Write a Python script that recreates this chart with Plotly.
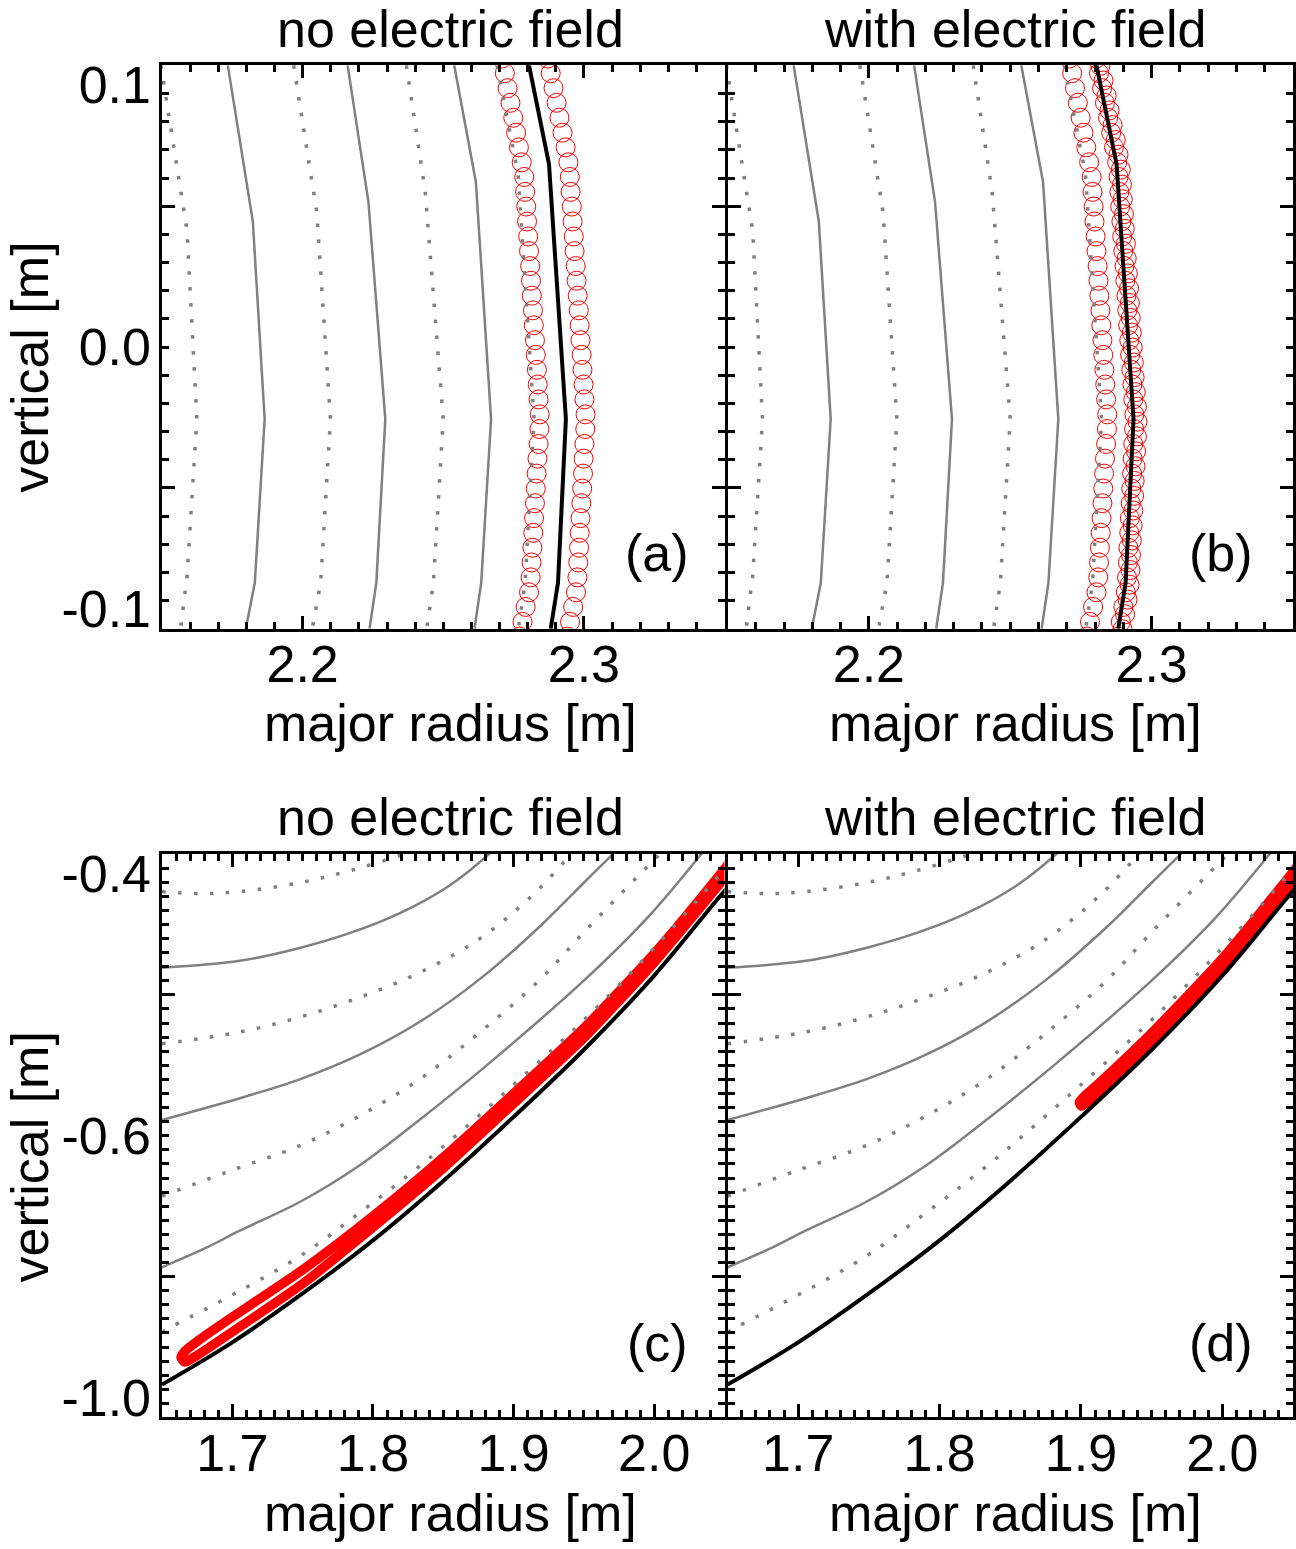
import plotly.graph_objects as go

W, H = 1296, 1549

# ---------------- top panels (a) and (b): major radius R [m] vs vertical Z [m] ----------------
top_R_range = [2.15, 2.35]
top_Z_range = [-0.1075, 0.1075]
top_ylabel_vals = [0.1, 0.0, -0.1]
top_ylabel_text = ["0.1", "0.0", "-0.1"]
top_ymajor_vals = [0.05375, -0.05375]
top_yminor_dtick = 0.01075

# flux-surface contours (grey dotted / grey solid / black)
top_dot1_R = [2.1496, 2.1589, 2.1624, 2.1589, 2.1566]
top_dot1_Z = [0.1075, 0.0445, -0.0275, -0.0875, -0.1075]
top_sol1_R = [2.1734, 2.1823, 2.1865, 2.1830, 2.1798]
top_sol1_Z = [0.1075, 0.0479, -0.0275, -0.0900, -0.1075]
top_dot2_R = [2.1968, 2.2050, 2.2099, 2.2064, 2.2034]
top_dot2_Z = [0.1075, 0.0517, -0.0275, -0.0900, -0.1075]
top_sol2_R = [2.2160, 2.2234, 2.2294, 2.2262, 2.2238]
top_sol2_Z = [0.1075, 0.0554, -0.0275, -0.0900, -0.1075]
top_dot3_R = [2.2369, 2.2436, 2.2500, 2.2465, 2.2441]
top_dot3_Z = [0.1075, 0.0592, -0.0275, -0.0900, -0.1075]
top_sol3_R = [2.2539, 2.2616, 2.2670, 2.2635, 2.2611]
top_sol3_Z = [0.1075, 0.0630, -0.0275, -0.0900, -0.1075]
top_dot4_R = [2.2691, 2.2766, 2.2823, 2.2791, 2.2767]
top_dot4_Z = [0.1075, 0.0660, -0.0275, -0.0900, -0.1075]
top_black_R = [2.2805, 2.2876, 2.2936, 2.2908, 2.2882]
top_black_Z = [0.1075, 0.0698, -0.0275, -0.0900, -0.1075]

# orbit marker positions (red open circles)
orbit_top_Z = [0.1101, 0.1045, 0.0988, 0.0932, 0.0875, 0.0818, 0.0762, 0.0705, 0.0649, 0.0592,
               0.0536, 0.0479, 0.0422, 0.0366, 0.0309, 0.0253, 0.0196, 0.0140, 0.0083, 0.0026,
               -0.0030, -0.0087, -0.0143, -0.0200, -0.0257, -0.0313, -0.0370, -0.0426, -0.0483, -0.0540,
               -0.0596, -0.0653, -0.0709, -0.0766, -0.0822, -0.0879, -0.0936, -0.0992, -0.1049, -0.1105]
orbit_left_R = [2.2709, 2.2719, 2.2729, 2.2739, 2.2749, 2.2759, 2.2769, 2.2779, 2.2788, 2.2791,
                2.2795, 2.2798, 2.2802, 2.2805, 2.2809, 2.2812, 2.2815, 2.2819, 2.2822, 2.2826,
                2.2829, 2.2833, 2.2836, 2.2839, 2.2843, 2.2842, 2.2839, 2.2835, 2.2832, 2.2829,
                2.2826, 2.2823, 2.2820, 2.2817, 2.2814, 2.2811, 2.2805, 2.2793, 2.2782, 2.2771]
orbit_a_right_R = [2.2871, 2.2882, 2.2892, 2.2903, 2.2913, 2.2924, 2.2935, 2.2945, 2.2950, 2.2953,
                   2.2957, 2.2960, 2.2964, 2.2967, 2.2971, 2.2974, 2.2978, 2.2982, 2.2985, 2.2988,
                   2.2992, 2.2995, 2.2999, 2.3002, 2.3006, 2.3005, 2.3002, 2.2999, 2.2997, 2.2994,
                   2.2991, 2.2988, 2.2985, 2.2983, 2.2980, 2.2977, 2.2972, 2.2962, 2.2951, 2.2941]
orbit_b_right_R = [2.2804, 2.2814, 2.2825, 2.2835, 2.2846, 2.2857, 2.2867, 2.2878, 2.2883, 2.2886,
                   2.2889, 2.2893, 2.2896, 2.2900, 2.2904, 2.2907, 2.2911, 2.2914, 2.2917, 2.2921,
                   2.2924, 2.2928, 2.2932, 2.2935, 2.2939, 2.2938, 2.2935, 2.2933, 2.2931, 2.2928,
                   2.2926, 2.2923, 2.2921, 2.2918, 2.2916, 2.2913, 2.2909, 2.2900, 2.2891, 2.2882]
orbit_b_Z2 = [0.1073, 0.1017, 0.0960, 0.0903, 0.0847, 0.0790, 0.0734, 0.0677, 0.0620, 0.0564,
              0.0507, 0.0451, 0.0394, 0.0338, 0.0281, 0.0224, 0.0168, 0.0111, 0.0055, -0.0002,
              -0.0059, -0.0115, -0.0172, -0.0228, -0.0285, -0.0341, -0.0398, -0.0455, -0.0511, -0.0568,
              -0.0624, -0.0681, -0.0738, -0.0794, -0.0851, -0.0907, -0.0964, -0.1020, -0.1077]
orbit_b_right2_R = [2.2819, 2.2830, 2.2841, 2.2851, 2.2862, 2.2873, 2.2883, 2.2891, 2.2895, 2.2898,
                    2.2902, 2.2905, 2.2909, 2.2912, 2.2916, 2.2920, 2.2923, 2.2926, 2.2930, 2.2933,
                    2.2937, 2.2940, 2.2944, 2.2948, 2.2950, 2.2948, 2.2945, 2.2943, 2.2940, 2.2938,
                    2.2935, 2.2933, 2.2930, 2.2927, 2.2925, 2.2922, 2.2915, 2.2906, 2.2897]

# ---------------- bottom panels (c) and (d) ----------------
bot_R_range = [1.65, 2.05]
bot_Z_range = [-1.0226, -0.3774]
bot_ylabel_vals = [-0.4, -0.7, -1.0]
bot_ylabel_text = ["-0.4", "-0.6", "-1.0"]
bot_ymajor_vals = [-0.5387, -0.8613]
bot_yminor_dtick = 0.01613

bot_dot1_R = [1.65, 1.6770, 1.7053, 1.7479, 1.7833, 1.8223, 1.8472]
bot_dot1_Z = [-0.4204, -0.4227, -0.4204, -0.4102, -0.3966, -0.3774, -0.3638]
bot_sol1_R = [1.65, 1.7053, 1.7479, 1.7833, 1.8188, 1.8543, 1.8826, 1.9039]
bot_sol1_Z = [-0.5076, -0.4997, -0.4849, -0.4680, -0.4453, -0.4136, -0.3774, -0.3434]
bot_dot2_R = [1.65, 1.7053, 1.7479, 1.7904, 1.8330, 1.8755, 1.9110, 1.9408, 1.9606]
bot_dot2_Z = [-0.5947, -0.5812, -0.5642, -0.5415, -0.5132, -0.4748, -0.4283, -0.3774, -0.3378]
bot_sol2_R = [1.65, 1.7053, 1.7479, 1.7904, 1.8330, 1.8755, 1.9181, 1.9507, 1.9720, 1.9890]
bot_sol2_Z = [-0.6819, -0.6570, -0.6355, -0.6072, -0.5698, -0.5212, -0.4612, -0.4091, -0.3751, -0.3468]
bot_dot3_R = [1.65, 1.6975, 1.7479, 1.7904, 1.8330, 1.8755, 1.9181, 1.9507, 2.0039, 2.0245]
bot_dot3_Z = [-0.7691, -0.7408, -0.7113, -0.6774, -0.6355, -0.5823, -0.5223, -0.4657, -0.3774, -0.3434]
bot_sol3_R = [1.65, 1.6819, 1.7053, 1.7479, 1.7904, 1.8330, 1.8798, 1.9507, 1.9961, 2.0323, 2.0528]
bot_sol3_Z = [-0.8506, -0.8279, -0.8087, -0.7759, -0.7340, -0.6819, -0.6208, -0.5212, -0.4487, -0.3797, -0.3378]
bot_dot4_R = [1.65, 1.6571, 1.6869, 1.7479, 1.7904, 1.8330, 1.8798, 1.9543, 2.0032, 2.05, 2.0599]
bot_dot4_Z = [-0.9253, -0.9185, -0.8936, -0.8381, -0.7883, -0.7351, -0.6706, -0.5608, -0.4793, -0.3944, -0.3751]
bot_black_R = [1.65, 1.70, 1.75, 1.80, 1.85, 1.90, 1.95, 2.00, 2.05, 2.06]
bot_black_Z = [-0.9850, -0.9366, -0.8806, -0.8198, -0.7517, -0.6784, -0.6015, -0.5166, -0.4198, -0.4030]

# orbit traces (outer leg down to the tip, then inner leg back up)
orbit_c_R = [2.0599, 2.05, 2.0004, 1.9507, 1.9003, 1.8507, 1.8004, 1.7507, 1.7004, 1.6770, 1.6670,
             1.6635, 1.6663, 1.6741, 1.7004, 1.7507, 1.8004, 1.8507, 1.9003, 1.9507, 2.0004, 2.05, 2.0599]
orbit_c_Z = [-0.3740, -0.3944, -0.4906, -0.5755, -0.6513, -0.7238, -0.7917, -0.8528, -0.9072, -0.9332, -0.9457,
             -0.9536, -0.9592, -0.9524, -0.9241, -0.8687, -0.8042, -0.7362, -0.6627, -0.5868, -0.5008, -0.4046, -0.3842]
orbit_d_R = [2.0599, 2.05, 2.0004, 1.9507, 1.9110, 1.9039, 1.8989, 1.9003, 1.9067, 1.9507, 2.0004, 2.05, 2.0599]
orbit_d_Z = [-0.3763, -0.3978, -0.4963, -0.5812, -0.6423, -0.6525, -0.6615, -0.6661, -0.6593, -0.5913, -0.5064, -0.4091, -0.3899]

titles = ["no electric field", "with electric field"]
panel_tags = ["(a)", "(b)", "(c)", "(d)"]
x_title = "major radius [m]"
y_title = "vertical [m]"

# ---------------- figure ----------------
GREY = "rgb(128,128,128)"
FAMILY = "Liberation Sans, Arial, Helvetica, sans-serif"
FONT = dict(family=FAMILY, size=52, color="black")

fig = go.Figure()


def add_line(R, Z, xa, ya, kind, shape="linear"):
    if kind == "solid":
        line = dict(color=GREY, width=2.5, shape=shape)
    elif kind == "dot":
        line = dict(color=GREY, width=3.5, dash="3.5px,12.5px", shape=shape)
    else:
        line = dict(color="black", width=4, shape=shape)
    fig.add_trace(go.Scatter(x=R, y=Z, mode="lines", line=line, xaxis=xa, yaxis=ya,
                             showlegend=False, hoverinfo="skip"))


def add_circles(R, Z, xa, ya):
    fig.add_trace(go.Scatter(x=R, y=Z, mode="markers", xaxis=xa, yaxis=ya, showlegend=False,
                             hoverinfo="skip",
                             marker=dict(symbol="circle-open", size=19, color="red",
                                         line=dict(width=1, color="red"))))


def add_band(R, Z, xa, ya):
    fig.add_trace(go.Scatter(x=R, y=Z, mode="lines", xaxis=xa, yaxis=ya, showlegend=False,
                             hoverinfo="skip",
                             line=dict(color="red", width=9.5, shape="spline", smoothing=0.6)))


# top panels
add_circles(orbit_left_R, orbit_top_Z, "x", "y")
add_circles(orbit_a_right_R, orbit_top_Z, "x", "y")
add_circles(orbit_left_R, orbit_top_Z, "x2", "y2")
add_circles(orbit_b_right_R, orbit_top_Z, "x2", "y2")
add_circles(orbit_b_right2_R, orbit_b_Z2, "x2", "y2")
for xa, ya in [("x", "y"), ("x2", "y2")]:
    add_line(top_dot1_R, top_dot1_Z, xa, ya, "dot")
    add_line(top_sol1_R, top_sol1_Z, xa, ya, "solid")
    add_line(top_dot2_R, top_dot2_Z, xa, ya, "dot")
    add_line(top_sol2_R, top_sol2_Z, xa, ya, "solid")
    add_line(top_dot3_R, top_dot3_Z, xa, ya, "dot")
    add_line(top_sol3_R, top_sol3_Z, xa, ya, "solid")
    add_line(top_dot4_R, top_dot4_Z, xa, ya, "dot")
    add_line(top_black_R, top_black_Z, xa, ya, "black")

# bottom panels
add_band(orbit_c_R, orbit_c_Z, "x3", "y3")
add_band(orbit_d_R, orbit_d_Z, "x4", "y4")
for xa, ya in [("x3", "y3"), ("x4", "y4")]:
    add_line(bot_dot1_R, bot_dot1_Z, xa, ya, "dot", "spline")
    add_line(bot_sol1_R, bot_sol1_Z, xa, ya, "solid", "spline")
    add_line(bot_dot2_R, bot_dot2_Z, xa, ya, "dot", "spline")
    add_line(bot_sol2_R, bot_sol2_Z, xa, ya, "solid", "spline")
    add_line(bot_dot3_R, bot_dot3_Z, xa, ya, "dot", "spline")
    add_line(bot_sol3_R, bot_sol3_Z, xa, ya, "solid", "spline")
    add_line(bot_dot4_R, bot_dot4_Z, xa, ya, "dot", "spline")
    add_line(bot_black_R, bot_black_Z, xa, ya, "black", "spline")

# empty traces so the label-only overlay axes are created
fig.add_trace(go.Scatter(x=[None], y=[None], xaxis="x", yaxis="y5", showlegend=False, hoverinfo="skip"))
fig.add_trace(go.Scatter(x=[None], y=[None], xaxis="x3", yaxis="y6", showlegend=False, hoverinfo="skip"))

# ---------------- axes ----------------
XA = [162 / W, 724.5 / W]
XB = [727.5 / W, 1293 / W]
YT = [1 - 627 / H, 1 - 57 / H]
YB = [1 - 1425 / H, 1 - 855 / H]

common = dict(showgrid=False, zeroline=False, showline=True, linecolor="black", linewidth=3,
              mirror="ticks", tickcolor="black", ticks="inside", ticklen=13, tickwidth=3)


def xax(domain, rng, tick0, anchor):
    return dict(domain=domain, range=rng, anchor=anchor, **common,
                tickmode="linear", tick0=tick0, dtick=0.1, tickformat=".1f", tickfont=FONT,
                ticklabelstandoff=-12,
                minor=dict(ticks="inside", ticklen=7, tickwidth=2.5, tickcolor="black",
                           tickmode="linear", tick0=tick0, dtick=0.01, showgrid=False))


def yax(domain, rng, anchor, major_vals, minor_dtick):
    return dict(domain=domain, range=rng, anchor=anchor, **common,
                tickmode="array", tickvals=major_vals, showticklabels=False,
                minor=dict(ticks="inside", ticklen=7, tickwidth=2.5, tickcolor="black",
                           tickmode="linear", tick0=rng[0], dtick=minor_dtick, showgrid=False))


def ylab(domain, rng, anchor, overlay, vals, text):
    return dict(domain=domain, range=rng, anchor=anchor, overlaying=overlay, side="left",
                showgrid=False, zeroline=False, showline=False, ticks="",
                tickmode="array", tickvals=vals, ticktext=text, tickfont=FONT,
                ticklabelstandoff=10)


annotations = []


def ann(text, x, y, **kw):
    d = dict(text=text, x=x / W, y=1 - y / H, xref="paper", yref="paper", showarrow=False,
             font=FONT, xanchor="center", yanchor="middle")
    d.update(kw)
    annotations.append(d)


ann(titles[0], 450, 20)
ann(titles[1], 1015, 20)
ann(titles[0], 450, 818)
ann(titles[1], 1015, 818)
ann(x_title, 450, 722)
ann(x_title, 1015, 722)
ann(x_title, 450, 1522)
ann(x_title, 1015, 1522)
ann(y_title, 30, 363, textangle=-90)
ann(y_title, 30, 1162, textangle=-90)
ann(panel_tags[0], 657, 550)
ann(panel_tags[1], 1221, 550)
ann(panel_tags[2], 657, 1350)
ann(panel_tags[3], 1221, 1350)

fig.update_layout(
    width=W, height=H, autosize=False,
    margin=dict(l=0, r=0, t=0, b=0, pad=0),
    paper_bgcolor="white", plot_bgcolor="white",
    showlegend=False,
    xaxis=xax(XA, top_R_range, 2.2, "y"),
    yaxis=yax(YT, top_Z_range, "x", top_ymajor_vals, top_yminor_dtick),
    xaxis2=xax(XB, top_R_range, 2.2, "y2"),
    yaxis2=yax(YT, top_Z_range, "x2", top_ymajor_vals, top_yminor_dtick),
    xaxis3=xax(XA, bot_R_range, 1.7, "y3"),
    yaxis3=yax(YB, bot_Z_range, "x3", bot_ymajor_vals, bot_yminor_dtick),
    xaxis4=xax(XB, bot_R_range, 1.7, "y4"),
    yaxis4=yax(YB, bot_Z_range, "x4", bot_ymajor_vals, bot_yminor_dtick),
    yaxis5=ylab(YT, top_Z_range, "x", "y", top_ylabel_vals, top_ylabel_text),
    yaxis6=ylab(YB, bot_Z_range, "x3", "y3", bot_ylabel_vals, bot_ylabel_text),
    annotations=annotations,
)

fig.write_html("out.html")
